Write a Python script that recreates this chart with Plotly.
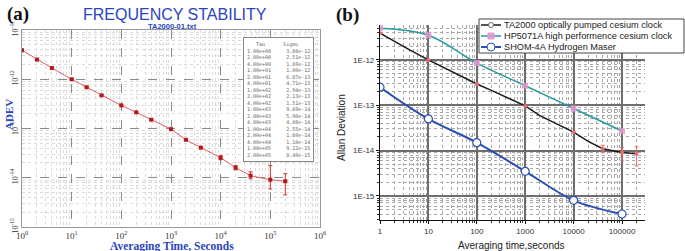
import plotly.graph_objects as go

# ---------------- data ----------------
TAU = [1, 2, 4, 10, 20, 40, 100, 200, 400, 1000, 2000, 4000, 10000, 20000, 40000, 100000, 200000]
SIGMA = [3.88e-12, 2.51e-12, 1.69e-12, 1.00e-12, 6.87e-13, 4.71e-13, 2.94e-13, 2.13e-13, 1.51e-13,
         9.69e-14, 5.90e-14, 4.08e-14, 2.55e-14, 1.60e-14, 1.10e-14, 9.12e-15, 8.49e-15]
ERR_A_PLUS = [0, 0, 0, 0, 0, 0, 0, 0, 0, 0, 0, 0, 2.5e-15, 1.6e-15, 2.2e-15, 8.5e-15, 3.6e-15]
ERR_A_MINUS = [0, 0, 0, 0, 0, 0, 0, 0, 0, 0, 0, 0, 2.3e-15, 1.5e-15, 1.5e-15, 3.2e-15, 4.0e-15]

MARK_TAU_B = [1, 10, 100, 1000, 10000, 40000, 100000, 200000]
ERR_B_PLUS = [0, 0, 0, 0, 0, 2.1e-15, 2.6e-15, 3.6e-15]
ERR_B_MINUS = [0, 0, 0, 0, 0, 1.8e-15, 3.0e-15, 3.9e-15]

B_TAU = [1, 10, 100, 1000, 10000, 100000]
HP_SIGMA = [5.0e-12, 3.5e-12, 8.5e-13, 2.7e-13, 8.5e-14, 2.7e-14]
SHOM_SIGMA = [2.5e-13, 5.0e-14, 1.5e-14, 3.5e-15, 8.0e-16, 4.0e-16]

LEGEND_NAMES = ["TA2000 optically pumped cesium clock",
                "HP5071A high performence cesium clock",
                "SHOM-4A Hydrogen Maser"]

X_TICKVALS_A = [1, 10, 100, 1000, 10000, 100000, 1000000]
X_TICKTEXT_A = ["10<sup>0</sup>", "10<sup>1</sup>", "10<sup>2</sup>", "10<sup>3</sup>",
                "10<sup>4</sup>", "10<sup>5</sup>", "10<sup>6</sup>"]
Y_TICKVALS_A = [1e-15, 1e-14, 1e-13, 1e-12, 1e-11]
Y_TICKTEXT_A = ["10<sup>-15</sup>", "10<sup>-14</sup>", "10<sup>-13</sup>", "10<sup>-12</sup>", "10<sup>-11</sup>"]

X_TICKVALS_B = [1, 10, 100, 1000, 10000, 100000]
X_TICKTEXT_B = ["1", "10", "100", "1000", "10000", "100000"]
Y_TICKVALS_B = [1e-15, 1e-14, 1e-13, 1e-12]
Y_TICKTEXT_B = ["1E-15", "1E-14", "1E-13", "1E-12"]

W, H = 685, 251
def px(x):
    return x / W
def py(y):
    return 1 - y / H

def minor_vals(d0, d1):
    return [m * 10 ** d for d in range(d0, d1) for m in range(2, 10)]

SERIF = "Liberation Serif, Times New Roman, serif"
SANS = "Liberation Sans, Arial, sans-serif"

fig = go.Figure()

# ---------------- panel (a) ----------------
fig.add_trace(go.Scatter(
    x=TAU, y=SIGMA, mode="lines+markers", xaxis="x", yaxis="y",
    line=dict(color="#e06060", width=1),
    marker=dict(symbol="square", size=4, color="#b81818"),
    error_y=dict(type="data", symmetric=False, array=ERR_A_PLUS, arrayminus=ERR_A_MINUS,
                 color="#d03030", thickness=1, width=2),
    showlegend=False))

# ---------------- panel (b) ----------------
fig.add_trace(go.Scatter(
    x=TAU, y=SIGMA, mode="lines", xaxis="x2", yaxis="y2",
    line=dict(color="#1a1a1a", width=1.5), showlegend=False))
mark_sig = [s for t, s in zip(TAU, SIGMA) if t in MARK_TAU_B]
fig.add_trace(go.Scatter(
    x=MARK_TAU_B, y=mark_sig, mode="markers", xaxis="x2", yaxis="y2",
    marker=dict(symbol="circle", size=4, color="#f06a6a"),
    error_y=dict(type="data", symmetric=False, array=ERR_B_PLUS, arrayminus=ERR_B_MINUS,
                 color="#f06a6a", thickness=1, width=2),
    showlegend=False))
fig.add_trace(go.Scatter(
    x=B_TAU, y=HP_SIGMA, mode="lines+markers", xaxis="x2", yaxis="y2",
    line=dict(color="#259a98", width=1.5, shape="spline"),
    marker=dict(symbol="square", size=6, color="rgba(230,150,210,0.85)"),
    showlegend=False))
fig.add_trace(go.Scatter(
    x=B_TAU, y=SHOM_SIGMA, mode="lines+markers", xaxis="x2", yaxis="y2",
    line=dict(color="#2b4fb0", width=2, shape="spline"),
    marker=dict(symbol="circle", size=8, color="white", line=dict(color="#2b4fb0", width=1.2)),
    showlegend=False))

# ---------------- layout ----------------
fig.update_layout(
    width=W, height=H, autosize=False,
    margin=dict(l=0, r=0, t=0, b=0),
    paper_bgcolor="white", plot_bgcolor="white",
    showlegend=False,
    xaxis=dict(type="log", range=[0, 6], domain=[px(22), px(320)], anchor="y", automargin=False,
               tickmode="array", tickvals=X_TICKVALS_A, ticktext=X_TICKTEXT_A,
               tickfont=dict(family=SERIF, size=9, color="#333"),
               showgrid=True, gridcolor="#8a8a8a", griddash="dash", gridwidth=1,
               minor=dict(tickmode="array", tickvals=minor_vals(0, 6), showgrid=True,
                          gridcolor="#dcdcdc", griddash="dot", gridwidth=1),
               showline=True, linecolor="#999", linewidth=1, mirror=True,
               ticks="", zeroline=False),
    yaxis=dict(type="log", range=[-15, -11], domain=[py(227), py(30)], anchor="x", automargin=False,
               tickmode="array", tickvals=Y_TICKVALS_A, ticktext=Y_TICKTEXT_A,
               tickangle=-90,
               tickfont=dict(family=SERIF, size=8, color="#333"),
               showgrid=True, gridcolor="#8a8a8a", griddash="dash", gridwidth=1,
               minor=dict(tickmode="array", tickvals=minor_vals(-15, -11), showgrid=True,
                          gridcolor="#dcdcdc", griddash="dot", gridwidth=1),
               showline=True, linecolor="#999", linewidth=1, mirror=True,
               ticks="", zeroline=False),
    xaxis2=dict(type="log", range=[0, 5.475], domain=[px(380), px(645)], anchor="y2", automargin=False,
                tickmode="array", tickvals=X_TICKVALS_B, ticktext=X_TICKTEXT_B,
                tickfont=dict(family=SANS, size=8, color="#333"),
                showgrid=True, gridcolor="#6e6e6e", gridwidth=1.5,
                minor=dict(tickmode="array", tickvals=minor_vals(0, 6), showgrid=True,
                           gridcolor="#a8a8a8", griddash="dot", gridwidth=1,
                           ticks="outside", ticklen=2, tickcolor="#333"),
                showline=True, linecolor="#111", linewidth=1.2,
                ticks="outside", ticklen=3, tickcolor="#111", zeroline=False),
    yaxis2=dict(type="log", range=[-15.53, -11.23], domain=[py(220), py(25)], anchor="x2", automargin=False,
                tickmode="array", tickvals=Y_TICKVALS_B, ticktext=Y_TICKTEXT_B,
                tickfont=dict(family=SANS, size=8, color="#333"),
                showgrid=True, gridcolor="#6e6e6e", gridwidth=1.5,
                minor=dict(tickmode="array", tickvals=minor_vals(-16, -11), showgrid=True,
                           gridcolor="#a8a8a8", griddash="dot", gridwidth=1,
                           ticks="outside", ticklen=2, tickcolor="#333"),
                showline=True, linecolor="#111", linewidth=1.2,
                ticks="outside", ticklen=3, tickcolor="#111", zeroline=False),
)

ann = []
# panel (a) texts
ann.append(dict(text="<b>(a)</b>", x=px(18), y=py(14), font=dict(family=SERIF, size=19, color="#111")))
ann.append(dict(text="FREQUENCY STABILITY", x=px(175), y=py(15),
                font=dict(family=SANS, size=16, color="#2a44c0")))
ann.append(dict(text="<b>TA2000-01.txt</b>", x=px(172), y=py(26),
                font=dict(family=SANS, size=7.5, color="#2a44c0")))
ann.append(dict(text="<b>ADEV</b>", x=px(9), y=py(115), textangle=-90,
                font=dict(family=SERIF, size=11, color="#2a44c0")))
ann.append(dict(text="<b>Averaging Time, Seconds</b>", x=px(172), y=py(246),
                font=dict(family=SERIF, size=11.5, color="#2a44c0")))

# table
NB = "\u00a0"
lines = [NB * 3 + "Tau" + NB * 6 + "Sigmo"]
for t, s in zip(TAU, SIGMA):
    lines.append(f"{t:.2e}" + NB * 5 + f"{s:.2e}")
ann.append(dict(text="<br>".join(lines), x=px(243), y=py(37), xanchor="left", yanchor="top",
                align="left", bgcolor="white", bordercolor="#888", borderwidth=1, borderpad=3,
                font=dict(family="DejaVu Sans Mono, monospace", size=5, color="#666")))

# panel (b) texts
ann.append(dict(text="<b>(b)</b>", x=px(348), y=py(15), font=dict(family=SERIF, size=19, color="#111")))
ann.append(dict(text="Allan Deviation", x=px(341), y=py(128), textangle=-90,
                font=dict(family=SANS, size=10, color="#222")))
ann.append(dict(text="Averaging time,seconds", x=px(512), y=py(245),
                font=dict(family=SANS, size=10, color="#222")))

# manual legend for (b)
shapes = []
shapes.append(dict(type="rect", xref="paper", yref="paper", x0=px(479), x1=px(684),
                   y0=py(53), y1=py(19), line=dict(color="#444", width=1), fillcolor="white", layer="above"))
leg_styles = [
    dict(lc="#1a1a1a", lw=1.5, sym="circle", r=2.5, fc="white", ec="#666"),
    dict(lc="#259a98", lw=1.5, sym="square", r=3, fc="rgba(230,150,210,0.9)", ec="rgba(230,150,210,0.9)"),
    dict(lc="#2b4fb0", lw=2, sym="circle", r=4, fc="white", ec="#2b4fb0"),
]
for i, (name, st) in enumerate(zip(LEGEND_NAMES, leg_styles)):
    yy = 25 + 11 * i
    shapes.append(dict(type="line", xref="paper", yref="paper", x0=px(481), x1=px(501),
                       y0=py(yy), y1=py(yy), line=dict(color=st["lc"], width=st["lw"]), layer="above"))
    cx = 491
    shapes.append(dict(type="circle" if st["sym"] == "circle" else "rect", xref="paper", yref="paper",
                       x0=px(cx - st["r"]), x1=px(cx + st["r"]), y0=py(yy + st["r"]), y1=py(yy - st["r"]),
                       line=dict(color=st["ec"], width=1), fillcolor=st["fc"], layer="above"))
    ann.append(dict(text=name, x=px(502), y=py(yy), xanchor="left",
                    font=dict(family=SANS, size=9.2, color="#222")))

for a in ann:
    a.setdefault("xref", "paper")
    a.setdefault("yref", "paper")
    a.setdefault("showarrow", False)
    a.setdefault("xanchor", "center")
    a.setdefault("yanchor", "middle")
fig.update_layout(annotations=ann, shapes=shapes)

fig.write_html("out.html", config={"displayModeBar": False},
               post_script="document.body.style.margin='0';document.body.style.padding='0';")
